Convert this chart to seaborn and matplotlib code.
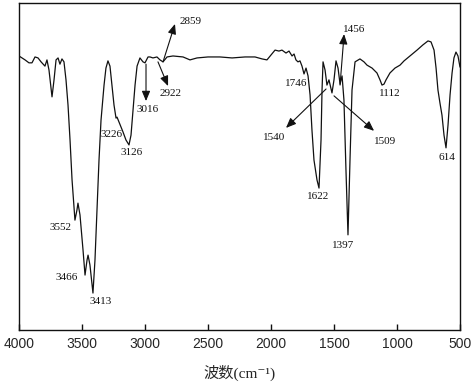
"""
FT-IR spectrum with annotated absorption bands
"""
import matplotlib
matplotlib.use('Agg')
import matplotlib.pyplot as plt
import numpy as np
import pandas as pd
import seaborn as sns

# spectrum: wavenumber (cm-1) and transmittance (arb. %)
wavenumber = [4000, 3952, 3921, 3897, 3873, 3849, 3825, 3794, 3778, 3762,
              3738, 3722, 3706, 3690, 3675, 3659, 3643, 3627, 3611, 3595,
              3579, 3556, 3540, 3532, 3516, 3492, 3476, 3460, 3452, 3437,
              3413, 3397, 3381, 3365, 3349, 3325, 3310, 3294, 3278, 3262,
              3246, 3230, 3222, 3206, 3175, 3151, 3127, 3111, 3095, 3079,
              3063, 3040, 3016, 3000, 2976, 2960, 2937, 2905, 2881, 2857,
              2825, 2778, 2698, 2643, 2587, 2500, 2405, 2309, 2206, 2127,
              2071, 2032, 2000, 1968, 1937, 1913, 1881, 1857, 1833, 1817,
              1802, 1786, 1770, 1754, 1738, 1722, 1706, 1690, 1675, 1659,
              1635, 1619, 1603, 1595, 1587, 1571, 1556, 1540, 1516, 1500,
              1484, 1468, 1452, 1436, 1421, 1405, 1389, 1373, 1357, 1333,
              1294, 1262, 1238, 1198, 1159, 1135, 1119, 1103, 1087, 1056,
              1016, 976, 944, 897, 841, 794, 754, 730, 706, 690,
              675, 659, 643, 627, 611, 595, 579, 563, 548, 532,
              516, 500]
transmittance = [83.8, 82.6, 81.7, 81.7, 83.5, 83.2, 82.0, 80.7, 82.6, 79.5,
                 71.3, 76.5, 82.6, 83.2, 81.3, 82.9, 82.0, 76.5, 68.8, 58.1,
                 45.9, 33.6, 36.7, 38.8, 35.2, 24.5, 16.8, 21.4, 22.9, 19.9,
                 11.3, 21.4, 36.7, 52.0, 64.2, 74.9, 80.1, 82.3, 80.7, 74.9,
                 68.8, 64.8, 65.1, 63.6, 60.6, 58.1, 56.6, 59.6, 67.3, 74.9,
                 80.7, 83.2, 82.0, 81.7, 83.5, 83.5, 83.2, 83.5, 82.6, 82.0,
                 83.5, 83.8, 83.5, 82.6, 83.2, 83.5, 83.5, 83.2, 83.5, 83.5,
                 82.9, 82.6, 84.1, 85.6, 85.3, 85.6, 84.7, 85.3, 83.8, 84.4,
                 82.6, 82.0, 82.3, 80.7, 78.3, 80.1, 77.7, 71.9, 61.2, 52.0,
                 45.9, 43.4, 58.1, 73.4, 82.0, 79.5, 74.9, 76.5, 72.5, 76.5,
                 82.3, 80.1, 75.2, 77.7, 70.3, 48.9, 29.1, 52.0, 73.4, 82.0,
                 82.9, 82.0, 81.0, 80.1, 78.6, 76.5, 74.9, 75.2, 76.5, 78.6,
                 80.1, 81.0, 82.3, 83.8, 85.6, 87.2, 88.4, 88.1, 85.6, 80.1,
                 73.4, 69.4, 65.7, 59.6, 55.7, 62.7, 71.9, 78.6, 83.2, 85.0,
                 83.8, 80.4]

# peak labels
peaks = ['3552', '3466', '3413', '3226', '3126', '3016', '2922', '2859',
         '1746', '1622', '1540', '1509', '1456', '1397', '1112', '614']

# label placement (data coords): text position, and arrow (tail, head) if any
label_pos = {
    '3552': (3667, 31.2), '3466': (3619, 16.2), '3413': (3349, 8.6),
    '3226': (3262, 59.9), '3126': (3103, 54.4), '3016': (2976, 67.3),
    '2922': (2794, 72.2), '2859': (2635, 94.2), '1746': (1801, 75.5),
    '1622': (1627, 40.7), '1540': (1976, 59.0), '1509': (1095, 57.5),
    '1456': (1341, 92.0), '1397': (1428, 25.7), '1112': (1055, 72.2),
    '614': (603, 52.6),
}
arrows = {
    '3016': ((2992, 81.3), (2992, 70.0)),
    '2922': ((2897, 82.0), (2817, 74.6)),
    '2859': ((2857, 82.0), (2762, 93.6)),
    '1540': ((1563, 73.7), (1881, 61.8)),
    '1509': ((1500, 71.6), (1182, 60.9)),
    '1456': ((1452, 74.9), (1420, 90.5)),
}

sns.set_style('white')
plt.rcParams['font.family'] = ['Liberation Sans', 'DejaVu Sans']
BK = '#111111'

df = pd.DataFrame({'wn': wavenumber, 'T': transmittance})

fig = plt.figure(figsize=(4.74, 3.84), dpi=100)
ax = fig.add_axes([19 / 474, 54 / 384, 441 / 474, 327 / 384])

sns.lineplot(data=df, x='wn', y='T', ax=ax, color=BK, linewidth=0.9,
             estimator=None)

ax.set_xlim(4000, 500)
ax.set_ylim(0, 100)
ax.set_xticks([4000, 3500, 3000, 2500, 2000, 1500, 1000, 500])
ax.set_yticks([])
ax.tick_params(axis='x', direction='in', length=4, width=1, color=BK,
               labelsize=10, pad=5, bottom=True, top=False)
for s in ax.spines.values():
    s.set_visible(True)
    s.set_color(BK)
    s.set_linewidth(1.0)

ax.set_ylabel('')
ax.set_xlabel('波数(cm⁻¹)', fontsize=11, labelpad=10,
              family=['Liberation Serif', 'Noto Sans CJK SC', 'DejaVu Serif'])

serif = ['Liberation Serif', 'DejaVu Serif']
for p in peaks:
    x, y = label_pos[p]
    ax.text(x, y, p, ha='center', va='center', fontsize=8, family=serif,
            color=BK)
    if p in arrows:
        tail, head = arrows[p]
        ax.annotate('', xy=head, xytext=tail,
                    arrowprops=dict(arrowstyle='-|>,head_length=0.6,head_width=0.25',
                                    color=BK, lw=0.8, shrinkA=0, shrinkB=0))

fig.savefig('out.png', dpi=100)
plt.close(fig)
